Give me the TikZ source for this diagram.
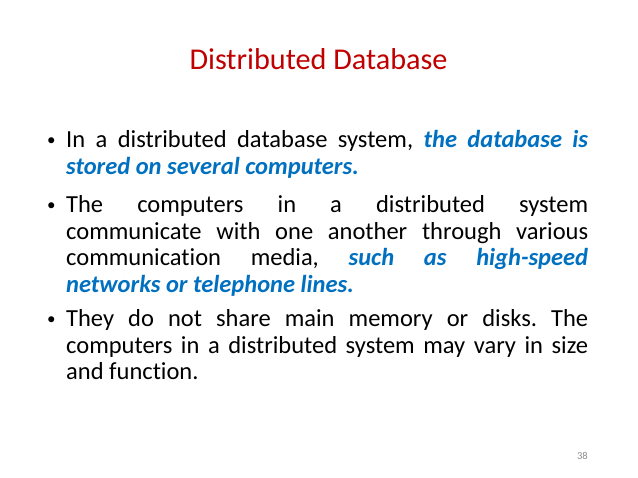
\documentclass[tikz,border=0pt]{standalone}
\usepackage{fontspec}
\setmainfont{Carlito}[Ligatures=NoCommon]
\definecolor{titlered}{HTML}{C00000}
\definecolor{hiblue}{HTML}{0070C0}
\definecolor{pagegray}{HTML}{8C8C8C}
\newcommand{\hiword}[1]{\textcolor{hiblue}{\textbf{\textit{#1}}}}
\newcommand{\jline}[1]{\makebox[522pt][s]{#1}}
\tikzset{
  bodyline/.style={anchor=base west, inner sep=0pt, font=\fontsize{24.5}{27}\selectfont\frenchspacing},
  bulletmark/.style={anchor=base west, inner sep=0pt, font=\fontsize{17}{20}\selectfont},
  titletext/.style={anchor=base, inner sep=0pt, text=titlered, font=\fontsize{30.2}{36}\selectfont},
  pagenum/.style={anchor=base east, inner sep=0pt, text=pagegray, font=\fontsize{10.5}{12}\selectfont}
}
\begin{document}
\begin{tikzpicture}[x=1pt,y=-1pt]
\useasboundingbox[fill=white] (0,0) rectangle (638,478);
\node[titletext] (title) at (318.5,70) {Distributed Database};

\node[bulletmark] (b1) at (47,146) {•};
\node[bodyline] (p1l1) at (66,148) {\jline{In a distributed database system, \hiword{the database is}}};
\node[bodyline] (p1l2) at (66,175) {\hiword{stored on several computers.}};

\node[bulletmark] (b2) at (47,210.5) {•};
\node[bodyline] (p2l1) at (66,212.5) {\jline{The computers in a distributed system}};
\node[bodyline] (p2l2) at (66,239.2) {\jline{communicate with one another through various}};
\node[bodyline] (p2l3) at (66,265.9) {\jline{communication media, \hiword{such as high-speed}}};
\node[bodyline] (p2l4) at (66,292.6) {\hiword{networks or telephone lines.}};

\node[bulletmark] (b3) at (47,324.5) {•};
\node[bodyline] (p3l1) at (66,326.5) {\jline{They do not share main memory or disks. The}};
\node[bodyline] (p3l2) at (66,353.2) {\jline{computers in a distributed system may vary in size}};
\node[bodyline] (p3l3) at (66,379.9) {and function.};

\node[pagenum] (pg) at (588,460) {38};
\end{tikzpicture}
\end{document}
